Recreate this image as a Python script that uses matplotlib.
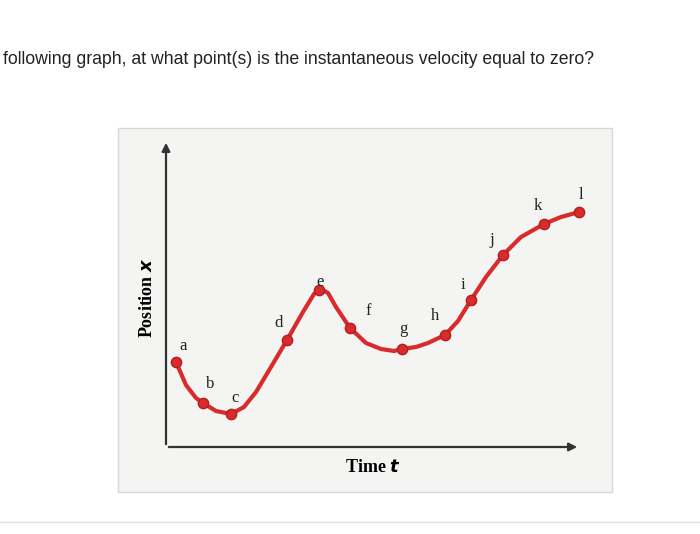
import matplotlib
matplotlib.use("Agg")
import matplotlib.pyplot as plt
from matplotlib.patches import Rectangle

# point labels and their (time, position) values
names = ['a', 'b', 'c', 'd', 'e', 'f', 'g', 'h', 'i', 'j', 'k', 'l']
pt_t = [10, 37, 65, 121, 153, 184, 236, 279, 305, 337, 378, 413]
pt_x = [85, 44, 33, 107, 157, 119, 98, 112, 147, 192, 223, 235]

# denser trace of the red curve
curve_t = [10, 20, 30, 37, 50, 65, 78, 90, 105, 121, 137, 148, 155, 162, 170, 184,
           200, 215, 228, 236, 250, 262, 279, 292, 305, 320, 337, 355, 378, 395, 413]
curve_x = [85, 62, 49, 44, 36, 33, 40, 55, 80, 107, 135, 153, 158, 154, 140, 119,
           104, 98, 96, 98, 100, 104, 112, 126, 147, 170, 192, 210, 223, 230, 235]

# label positions
lab_t = [17, 44, 69, 113, 154, 202, 237, 269, 297, 326, 372, 415]
lab_x = [101, 63, 49, 124, 165, 136, 118, 131, 162, 207, 241, 252]

W, H = 700, 534
fig = plt.figure(figsize=(7, 5.34), dpi=100)
fig.patch.set_facecolor('white')

bg = fig.add_axes([0, 0, 1, 1])
bg.set_xlim(0, W)
bg.set_ylim(H, 0)
bg.axis('off')
bg.add_patch(Rectangle((118, 128), 494, 364, facecolor='#f4f4f2', edgecolor='#d8d8d8', lw=1))
bg.text(3, 60, 'following graph, at what point(s) is the instantaneous velocity equal to zero?',
        fontsize=12.7, family='Liberation Sans', va='center', color='#222222')
bg.axhline(522, color='#dddddd', lw=1)

# data axes: origin at pixel (166, 447)
x0, y0, x1, y1 = 166, 447, 580, 140
ax = fig.add_axes([x0 / W, 1 - y0 / H, (x1 - x0) / W, (y0 - y1) / H])
ax.set_xlim(0, x1 - x0)
ax.set_ylim(0, y0 - y1)
ax.axis('off')
ax.patch.set_alpha(0)

ax.annotate('', xy=(x1 - x0, 0), xytext=(0, 0),
            arrowprops=dict(arrowstyle='-|>', color='#333333', lw=1.6, mutation_scale=12))
ax.annotate('', xy=(0, y0 - y1), xytext=(0, 0),
            arrowprops=dict(arrowstyle='-|>', color='#333333', lw=1.6, mutation_scale=12))

ax.plot(curve_t, curve_x, color='#d92b2b', lw=3, solid_capstyle='round', zorder=2, clip_on=False)
ax.scatter(pt_t, pt_x, s=55, color='#d92b2b', edgecolor='#b02020', zorder=3, clip_on=False)
for n, t, x in zip(names, lab_t, lab_x):
    ax.text(t, x, n, fontsize=12, family='Liberation Serif', ha='center', va='center', color='#222222')

bg.text(148, 298, 'Position $\\boldsymbol{x}$', rotation=90, fontsize=13, family='Liberation Serif',
        fontweight='bold', ha='center', va='center')
bg.text(373, 467, 'Time $\\boldsymbol{t}$', fontsize=13, family='Liberation Serif',
        fontweight='bold', ha='center', va='center')

fig.savefig('out.png', dpi=100)
